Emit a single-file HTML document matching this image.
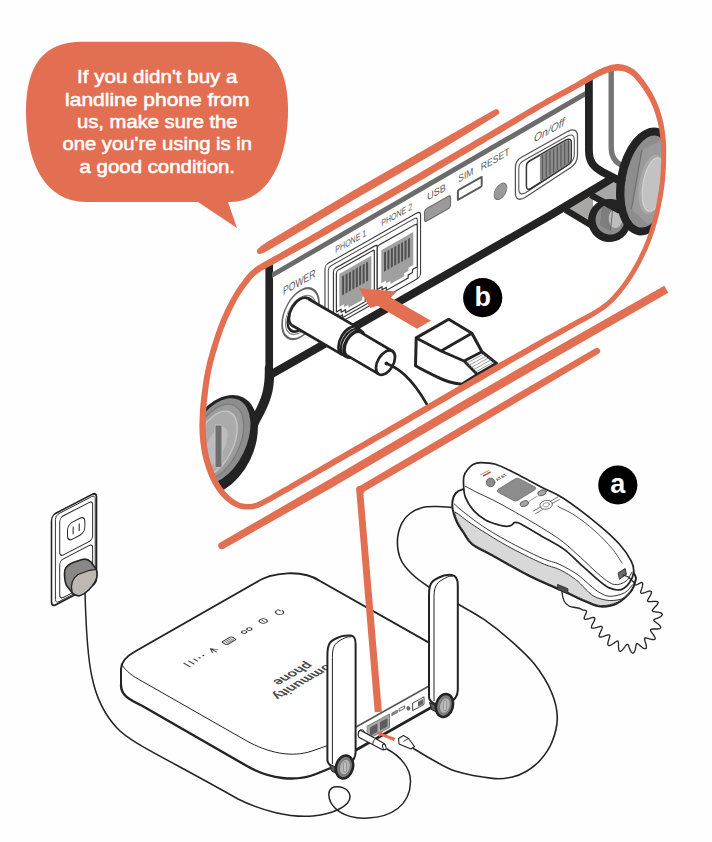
<!DOCTYPE html>
<html><head><meta charset="utf-8"><title>Connect your landline phone</title>
<style>
html,body{margin:0;padding:0;background:#fff}
body{width:712px;height:842px;overflow:hidden;font-family:"Liberation Sans",sans-serif}
svg{display:block}
.bt{font-family:"Liberation Sans",sans-serif;font-weight:normal;font-size:18.6px;fill:#fff;stroke:#fff;stroke-width:0.55px;text-anchor:middle}
.lb{font-family:"Liberation Sans",sans-serif;fill:#595959}
</style></head><body>
<svg width="712" height="842" viewBox="0 0 712 842">
<rect width="712" height="842" fill="#fefefe"/>
<path d="M82 41.8 L232 41.8 C268 41.8 287 62 288 106 C289 160 268 202 230 202 L228 202 L237 228 L198 202 L86 202 C46 202 26 164 26 112 C26 62 46 41.8 82 41.8Z" fill="#E36F52"/>
<text class="bt" x="157.3" y="83" textLength="160.5" lengthAdjust="spacingAndGlyphs">If you didn't buy a</text>
<text class="bt" x="157.3" y="105.5" textLength="184.5" lengthAdjust="spacingAndGlyphs">landline phone from</text>
<text class="bt" x="157.3" y="127.9" textLength="160.5" lengthAdjust="spacingAndGlyphs">us, make sure the</text>
<text class="bt" x="157.3" y="150.3" textLength="189.7" lengthAdjust="spacingAndGlyphs">one you're using is in</text>
<text class="bt" x="157.3" y="172.8" textLength="155.5" lengthAdjust="spacingAndGlyphs">a good condition.</text>

<g fill="none" stroke-linecap="round" stroke-linejoin="round">
<path d="M85 592 C86 630 88 660 92 677 C96 697 103 713 117 728 C131 743 160 755 238 799 C262 811 290 818 313 816 C333 814 351 806 350 796 C349 788 340 786 334 787 C327 789 327 800 335 808 C343 816 356 819 368 818 C392 817 410 805 410.5 782 C411 768 400 756 387 749" stroke="#232323" stroke-width="1.5"/>
<path d="M451 507.4 C448.7 507.2 441.7 506.5 437 506.5 C432.3 506.5 427.2 506.2 422.7 507.4 C418.2 508.6 413.6 510.6 410 513.5 C406.4 516.4 403.1 520.2 401 525 C398.9 529.8 397.4 536.2 397.4 542 C397.4 547.8 398.6 554.7 401 560 C403.4 565.3 407.3 569.5 412 574 C416.7 578.5 421.5 582.1 429 587 C436.5 591.9 447.8 598 457 603.5 C466.2 609 475.1 613.3 484.3 619.7 C493.5 626.1 504 634.6 512.4 642.1 C520.8 649.6 528.2 656.2 534.8 664.6 C541.3 673 548 683.8 551.7 692.7 C555.5 701.6 557.2 709.8 557.3 718 C557.3 726.2 554.8 735 552 742 C549.2 749 544.6 755.2 540.4 760 C536.2 764.8 531.7 768.2 527 771 C522.3 773.8 518.1 775.8 512.4 777 C506.7 778.2 502.1 779.4 492.7 778.4 C483.3 777.4 466.1 774.4 456 771.3 C445.9 768.1 439.1 763.3 432 759.5 C424.9 755.7 416.6 750.3 413.5 748.5" stroke="#232323" stroke-width="1.6"/>
<path d="M121 668 C121 661 126 656.5 135 651.5 L255 583 C272 571.5 303 569.5 320 581 L440 650 L440 700 L330 769 C312 780 292 782 268 771.5 L142 704.5 C128 697.5 121 693 121 685 Z" fill="#fff" stroke="none"/>
<path d="M121 684 L121 669 C121 661.5 126 656.5 135 651.5 L255 583 C272 571.5 303 569.5 320 581 L432 644.3" stroke="#232323" stroke-width="2"/>
<path d="M121 685 C121 695 128 699 142.5 706 L246 765.5 C270 779.5 296 782 316 774 L338 765" stroke="#232323" stroke-width="2.4"/>
<path d="M122 665 C126 671 132 676 142.5 681.5 L246 740.5 C268 753 292 758 312 751 L328 745.5" stroke="#232323" stroke-width="1"/>
<path d="M356 727 L431 685 L431 707.5 L356 750Z" fill="#fff" stroke="none"/>
<path d="M356 727 L430 685.5" stroke="#555" stroke-width="1.6"/>
<path d="M356 750 L432 707" stroke="#232323" stroke-width="2.6"/>
<path d="M367.5 726 L389.5 714 L389.5 727.5 L367.5 739.5Z" fill="#a9a9a9" stroke="#666" stroke-width="0.8"/><path d="M370 727.5 L377.5 723.5 L377.5 732 L370 736Z M380 722 L387.5 718 L387.5 726.5 L380 730.5Z" fill="#5e5e5e" stroke="none"/><path d="M392 713 L397.5 710 L397.5 712.6 L392 715.6Z" fill="#888" stroke="#555" stroke-width="0.6"/><path d="M399.5 708.6 L404.5 705.8 L404.5 708.4 L399.5 711.2Z" fill="#fff" stroke="#444" stroke-width="0.8"/><ellipse cx="408.3" cy="708.3" rx="1.5" ry="2" fill="#777" stroke="#444" stroke-width="0.6"/><path d="M413 703 L424 696.8 L424 704.3 L413 710.5Z" fill="#fff" stroke="#333" stroke-width="0.9"/><path d="M418 701.8 L423 699 L423 704 L418 706.8Z" fill="#666" stroke="none"/><ellipse cx="361.5" cy="734" rx="3.2" ry="4.3" fill="#fff" stroke="#232323" stroke-width="1"/><path d="M360.3 730.2 L375.5 738.5 L384.5 743.8 C386.5 745.3 385.5 749.5 383 750 L372.5 744.5 L358.8 737.2 C357.5 735 358.5 731 360.3 730.2Z" fill="#fff" stroke="#232323" stroke-width="1.1"/><path d="M375.5 738.5 C373.5 740 372.5 743 372.8 744.6" stroke="#232323" stroke-width="1"/><ellipse cx="384.3" cy="747" rx="1.6" ry="2.9" transform="rotate(-20 384.3 747)" fill="#fff" stroke="#232323" stroke-width="1"/><path d="M377.3 732 L383 731.6 L382 733.2 L395.5 738 L393.8 741 L380.5 735.6 L379.6 737.2Z" fill="#E36F52" stroke="none"/><path d="M398.5 738.5 L403.5 735.5 L408.5 738.5 L414.5 746.5 L411 749 L399 744Z" fill="#fff" stroke="#232323" stroke-width="1.1"/><path d="M403.8 741.2 L408.5 738.5" stroke="#232323" stroke-width="0.9"/><g transform="matrix(0.866 -0.5 0.866 0.5 187 665)"><path d="M0 -3.5 L0 3.5 M5 -3 L5 3 M10 -2 L10 2 M14.5 -0.6 L14.5 0.6 M19 -0.4 L19 0.4" stroke="#333" stroke-width="1.3"/><path d="M27 2.5 L30 -3 L33 2.5 M30 -3 L30 4" stroke="#333" stroke-width="1"/><rect x="43" y="-3" width="11" height="6" rx="1.2" fill="#e4e4e4" stroke="#333" stroke-width="1"/><path d="M45 -1.2 L52 -1.2 M45 0.4 L52 0.4 M45 1.8 L52 1.8" stroke="#555" stroke-width="0.5"/><circle cx="66" cy="0" r="2" stroke="#333" stroke-width="1"/><circle cx="72" cy="0" r="2" stroke="#333" stroke-width="1"/><circle cx="88" cy="0" r="3.2" stroke="#333" stroke-width="1"/><path d="M88 -1.5 L88 1.2" stroke="#333" stroke-width="0.9"/><path d="M106.5 -2.6 A3.3 3.3 0 1 0 109.5 0.5 M108 -3 L108 0" stroke="#333" stroke-width="1"/></g>
</g>
<g transform="matrix(-0.866 0.5 -0.866 -0.5 335 659)"><text x="0" y="0" font-family="Liberation Sans, sans-serif" font-weight="bold" font-size="13.4" fill="#4a4a4a">Community</text><text x="19" y="13.5" font-family="Liberation Sans, sans-serif" font-weight="bold" font-size="13.4" fill="#4a4a4a">phone</text></g>
<g><path d="M327.4 760 L327.4 655.5 C327.4 643.5 329.9 641.3 337 638 C341 635.8 345.5 635 350.5 635.6 C354.5 636 355.6 638.6 355.6 644.5 L355.6 752 C355.6 760 349.6 764 345.6 766 L335.4 768 C330.4 766 327.4 763 327.4 760Z" fill="#fff" stroke="#232323" stroke-width="2" stroke-linejoin="round"/><path d="M332.4 764 L332.4 657.5 C332.4 647.5 334.4 643.8 340 640.4 C344 638.3 346.5 636.4 351.5 636.8" fill="none" stroke="#232323" stroke-width="1"/><path d="M329.5 764 L337.5 768 L337.5 774 L331.5 771Z" fill="#5a5a5a" stroke="#232323" stroke-width="1" stroke-linejoin="round"/><g transform="translate(344.5 767)"><g transform="rotate(15)"><ellipse rx="8.4" ry="11.6" fill="#7e7e7e" stroke="#232323" stroke-width="2.6"/><ellipse cx="0.4" rx="5.2" ry="8" fill="#b4b4b4" stroke="#6d6d6d" stroke-width="0.8"/></g><rect x="-0.5" y="-5" width="2" height="10" rx="0.8" fill="#f0f0f0" stroke="#555" stroke-width="0.6"/></g></g>
<g><path d="M429 697 L429 595.5 C429 583.5 431.5 580.8 439 577.5 C443 575.3 446.8 574.4 451.8 575 C455.8 575.4 457.8 578 457.8 585.5 L457.8 690 C457.8 698 451.8 702 447.8 704 L437 705 C432 703 429 700 429 697Z" fill="#fff" stroke="#232323" stroke-width="2" stroke-linejoin="round"/><path d="M434 701 L434 597.5 C434 587.5 436 583.3 442 579.9 C446 577.8 447.8 575.8 452.8 576.2" fill="none" stroke="#232323" stroke-width="1"/><path d="M429.5 702.5 L437.5 706.5 L437.5 712.5 L431.5 709.5Z" fill="#5a5a5a" stroke="#232323" stroke-width="1" stroke-linejoin="round"/><g transform="translate(444.5 705.5)"><g transform="rotate(15)"><ellipse rx="8.4" ry="11.6" fill="#7e7e7e" stroke="#232323" stroke-width="2.6"/><ellipse cx="0.4" rx="5.2" ry="8" fill="#b4b4b4" stroke="#6d6d6d" stroke-width="0.8"/></g><rect x="-0.5" y="-5" width="2" height="10" rx="0.8" fill="#f0f0f0" stroke="#555" stroke-width="0.6"/></g></g>
<g stroke-linejoin="round"><g transform="matrix(0.866 -0.45 0 1 51.5 515.5)"><rect x="0" y="0" width="52" height="91.5" rx="5" fill="#fff" stroke="#232323" stroke-width="1.8"/><rect x="4.5" y="2" width="46" height="88" rx="4" fill="none" stroke="#232323" stroke-width="0.9"/><rect x="9.5" y="6.5" width="38" height="39" rx="4" fill="#fff" stroke="#232323" stroke-width="1.1"/><rect x="9.5" y="49.5" width="38" height="38.5" rx="4" fill="#fff" stroke="#232323" stroke-width="1.1"/><rect x="18.5" y="17.5" width="20" height="17" rx="5.5" fill="#fff" stroke="#232323" stroke-width="1.1"/><path d="M25 22.5 L25 30 M32 22.5 L32 30" stroke="#232323" stroke-width="1.2" fill="none"/></g><path d="M64.5 574 C64 567.5 68 564.5 73 562.5 L82 559.5 C86 558.5 89 560 91 562 L96 569 C97.5 573 97 578 95 581.5 C92 587 86 593.5 80 595.5 C76 596.5 74 594.5 72 592.5 L66.5 585.5 C64.8 582 64.6 578 64.5 574Z" fill="#8a8886" stroke="#232323" stroke-width="1.6"/><path d="M72.2 592.5 C70.5 585 72 578.5 78 574.5 L89 570.5 C92 570 94.5 569.7 96 569.2 C97.5 573 97 578 95 581.5 C92 587 86 593.5 80 595.5 C76 596.5 74 594.5 72.2 592.5Z" fill="#bdb8b2" stroke="#232323" stroke-width="1.2"/></g>
<g stroke-linejoin="round" stroke-linecap="round"><path d="M452.6 500.5 C453.1 497.8 453.9 495.3 455.5 493.5 C457.1 491.7 459.5 490.2 461.9 489.6 C464.3 489 463.6 487.4 470 490 C476.4 492.6 485 496.7 500 505 C515 513.3 540 530.8 560 540 C580 549.2 607.6 554.3 620 560 C632.4 565.7 632 570.8 634.5 574.4 C637 578 635.9 578.7 635.3 581.5 C634.7 584.3 634 587.6 631.1 591.2 C628.2 594.8 622.7 600.4 617.6 603 C612.5 605.6 606.1 606.9 600.8 606.6 C595.5 606.4 591.8 604 585.6 601.5 C579.4 599 573 595.6 563.7 591.4 C554.4 587.2 542.2 582.4 530 576.3 C517.8 570.2 500.3 559.9 490.6 554.6 C480.9 549.3 476.6 548.1 472 544.3 C467.4 540.5 465.5 535.6 463 532 C460.5 528.4 458.6 526.1 456.9 522.4 C455.2 518.7 453.5 513.6 452.8 510 C452.1 506.4 452.2 503.2 452.6 500.5Z" fill="#fff" stroke="#232323" stroke-width="2"/><path d="M455.2 512.3 C456.9 512.3 463.5 518.4 468 521.5 C472.5 524.6 475.5 526.7 482.1 530.8 C488.7 534.9 497.6 540.6 507.4 546 C517.2 551.4 532.3 558.9 541.1 562.9 C549.9 566.9 554.3 567 560 569.8 C565.7 572.5 571.3 576.3 575.5 579.4 C579.7 582.5 581.9 585.7 585 588.5 C588.1 591.3 590 594.3 594 596.3 C598 598.3 604.1 600.2 609.2 600.5 C614.3 600.8 620.6 599.7 624.4 598 C628.2 596.3 631 591.5 632 590.5 C633 589.5 632.9 589.8 630.5 591.8 C628.1 593.8 622.6 599.9 617.6 602.2 C612.6 604.5 606.1 605.9 600.8 605.6 C595.5 605.3 591.8 603 585.6 600.5 C579.4 598 573 594.6 563.7 590.4 C554.4 586.2 542.2 581.4 530 575.3 C517.8 569.2 500.2 558.9 490.6 553.6 C481 548.3 477 547 472.5 543.3 C468 539.6 466.3 535.1 463.8 531.5 C461.3 527.9 459.1 524.7 457.7 521.5 C456.3 518.3 453.5 512.3 455.2 512.3Z" fill="#d8d8d8" stroke="#232323" stroke-width="0.9"/><path d="M454.3 503.9 C455.6 505 457.3 507 461.9 510.6 C466.5 514.2 474.5 520.7 482.1 525.8 C489.7 530.9 497.6 535.7 507.4 541 C517.2 546.3 532.3 553.9 541.1 557.8 C549.9 561.7 554 561.8 560 564.6 C566 567.4 572.5 571.2 577.2 574.4 C581.9 577.5 584.6 580.7 588 583.5 C591.4 586.3 593.9 589.1 597.4 591.2 C600.9 593.3 604.7 596 609.2 596.3 C613.7 596.6 620.5 594.9 624.4 592.9 C628.3 590.9 631.4 585.9 632.8 584.5" fill="none" stroke="#232323" stroke-width="0.9"/><path d="M463.6 485.3 C463.4 481.8 463.3 478.7 464 476 C464.7 473.3 466.3 471.2 467.8 469.3 C469.3 467.4 470.9 465.6 473 464.5 C475.1 463.4 476.7 462.6 480.5 462.6 C484.3 462.6 489.7 462.5 495.6 464.3 C501.5 466.1 508.2 469.7 515.8 473.5 C523.4 477.3 533.1 482.8 541.1 487 C549.1 491.2 554.3 492.4 563.7 498.5 C573.1 504.6 588.1 516.2 597.4 523.8 C606.7 531.4 613.7 537.8 619.3 544 C624.9 550.2 628.7 556.2 631.1 560.9 C633.5 565.5 634 568.2 633.7 571.9 C633.4 575.5 631.5 579.8 629.4 582.8 C627.3 585.8 624.4 588.8 621 589.6 C617.6 590.5 613.1 589.6 609.2 587.9 C605.3 586.2 602.2 583.3 597.4 579.4 C592.6 575.5 586.2 569.3 580.6 564.3 C575 559.2 570.3 553.8 563.7 549.1 C557.1 544.4 548.2 540.1 541.1 535.9 C534 531.7 524.9 526.3 520.9 524.1 C516.9 521.9 518.1 522.9 517 522.6 C515.9 522.4 515.1 522.2 514.2 522.6 C513.3 523 512.7 524.7 511.5 525.3 C510.3 525.9 509.1 526.3 507 526.3 C504.9 526.2 502.6 526.1 499 525 C495.4 523.9 489.7 522.3 485.5 519.9 C481.3 517.5 477.1 514.4 473.7 510.6 C470.3 506.8 467 501.3 465.3 497.1 C463.6 492.9 463.8 488.8 463.6 485.3Z" fill="#fff" stroke="#232323" stroke-width="1.7"/><path d="M465.3 486.2 C467.2 487.2 472.8 490.4 477 492.5 C481.2 494.6 485.6 496.3 490.6 498.8 C495.6 501.3 501.4 504.4 507 507.5 C512.6 510.6 517.6 513.5 524.3 517.4 C530.9 521.3 540.3 526.8 546.9 531 C553.5 535.2 558.1 538.1 563.7 542.5 C569.3 546.9 574.4 551.9 580.6 557.5 C586.8 563.1 595.2 571.6 600.8 576.1 C606.4 580.6 610.1 583.7 614.3 584.5 C618.5 585.3 623.1 583.2 626.1 581.1 C629.1 579 631 573.5 632 572" fill="none" stroke="#232323" stroke-width="0.9"/><path d="M558 506.5 C560.8 508 568.8 511.4 575 515.5 C581.2 519.6 588.8 525.5 595 531 C601.2 536.5 607.5 543.2 612 548.5 C616.5 553.8 620.3 560.6 622 563" fill="none" stroke="#232323" stroke-width="0.8"/><path d="M498.3 489.3 L514.7 479 C516.2 478 518 478 519.5 478.7 L534.2 486.5 C536.2 487.6 536.2 489 534.6 490 L518 500.2 C516.5 501.1 514.8 501.1 513.3 500.4 L498.6 492.6 C496.8 491.6 496.8 490.3 498.3 489.3Z" fill="#8c8c8c" stroke="#666" stroke-width="0.7"/><circle cx="490.6" cy="482.4" r="4.3" fill="#8e8e8e" stroke="#555" stroke-width="0.8"/><path d="M483.3 475.8 L490.2 472.2" stroke="#d8332e" stroke-width="1.3"/><path d="M480.5 474.8 L488.5 470.6" stroke="#666" stroke-width="0.7"/><text transform="matrix(0.866 -0.5 0.866 0.5 497.5 481)" font-family="Liberation Sans, sans-serif" font-weight="bold" font-size="4.6" fill="#444">AT&amp;T</text><ellipse cx="542" cy="492.9" rx="4.4" ry="2.7" transform="rotate(-18 542 492.9)" fill="#a5a5a5" stroke="#555" stroke-width="0.8"/><ellipse cx="524.3" cy="503.6" rx="4.4" ry="2.7" transform="rotate(-18 524.3 503.6)" fill="#a5a5a5" stroke="#555" stroke-width="0.8"/><path d="M529.5 501 L537 496.3" stroke="#666" stroke-width="0.7"/><ellipse cx="546.2" cy="504.8" rx="6.4" ry="4.4" transform="rotate(-12 546.2 504.8)" fill="#fff" stroke="#555" stroke-width="0.8"/><ellipse cx="546.2" cy="504.8" rx="3.2" ry="2.1" transform="rotate(-12 546.2 504.8)" fill="#fff" stroke="#666" stroke-width="0.6"/><path d="M533.5 511 L541 506.8 M535.5 513.6 L542.5 509.6 M550.5 501.2 L558 497 M552.2 503.4 L559.3 499.6" stroke="#666" stroke-width="0.9"/><path d="M557.8 584.5 L567.9 588.7 L567.9 593.8 L557.8 589.6Z" fill="#4a4a4a" stroke="#232323" stroke-width="0.8"/><path d="M618.5 572.7 L625.2 568.5 L626.4 574.4 L619.7 579.1Z" fill="#6a6a6a" stroke="#232323" stroke-width="0.9"/><path d="M562 592 C562.5 600 565 604 569 606 C573 608 578 607 582 609.5 L582.1,609.6 582.3,609.7 582.4,609.8 582.6,609.9 582.9,610 583.1,610.1 583.4,610.1 583.8,610.2 584.1,610.2 584.5,610.2 584.9,610.3 585.2,610.3 585.6,610.4 585.9,610.5 586.2,610.7 586.4,611 586.5,611.3 586.5,611.7 586.4,612.2 586.2,612.8 586,613.4 585.6,614.2 585.2,615 584.9,615.8 584.5,616.5 584.3,617.2 584.1,617.8 584.1,618.3 584.2,618.7 584.4,619 584.7,619.2 585.2,619.3 585.8,619.3 586.4,619.2 587.2,619 588,618.8 588.9,618.6 589.7,618.3 590.6,618 591.4,617.8 592.2,617.6 592.9,617.5 593.5,617.5 594,617.5 594.4,617.7 594.7,618 594.8,618.3 594.9,618.8 594.7,619.4 594.5,620.1 594.2,620.9 593.8,621.7 593.3,622.6 592.9,623.4 592.4,624.3 592,625.1 591.7,625.9 591.5,626.6 591.4,627.1 591.5,627.6 591.7,627.9 592.1,628.1 592.7,628.2 593.4,628.2 594.2,628.1 595,627.9 596,627.6 597,627.3 597.9,627 598.9,626.8 599.7,626.5 600.5,626.4 601.1,626.4 601.6,626.5 601.9,626.7 602.1,627 602.2,627.5 602.1,628.1 601.9,628.8 601.6,629.6 601.2,630.4 600.8,631.3 600.4,632.2 600,633.1 599.7,633.9 599.4,634.7 599.2,635.4 599.1,636 599.2,636.5 599.4,636.8 599.8,637 600.3,637.1 601,637 601.7,636.9 602.6,636.7 603.5,636.4 604.5,636 605.4,635.7 606.3,635.4 607.2,635.1 607.9,634.9 608.6,634.8 609.1,634.9 609.5,635 609.7,635.3 609.8,635.7 609.8,636.2 609.7,636.8 609.5,637.6 609.2,638.4 608.9,639.3 608.6,640.2 608.3,641.1 608.1,642 607.9,642.8 607.8,643.6 607.8,644.3 608,644.8 608.2,645.2 608.5,645.5 608.9,645.6 609.4,645.6 610,645.4 610.7,645.2 611.4,644.8 612.2,644.3 612.9,643.8 613.7,643.2 614.4,642.7 615.1,642.2 615.8,641.8 616.4,641.4 616.9,641.2 617.3,641 617.7,641.1 618,641.2 618.2,641.6 618.3,642 618.4,642.6 618.5,643.3 618.5,644.1 618.5,645 618.5,645.9 618.5,646.8 618.5,647.7 618.6,648.6 618.7,649.3 618.8,650 619.1,650.5 619.3,650.9 619.7,651.2 620,651.3 620.5,651.3 620.9,651.1 621.4,650.8 621.9,650.4 622.5,649.8 623,649.2 623.5,648.6 624,647.9 624.5,647.2 625,646.6 625.4,646 625.8,645.4 626.2,645 626.6,644.6 626.9,644.4 627.3,644.3 627.5,644.3 627.8,644.5 628.1,644.8 628.3,645.2 628.6,645.7 628.8,646.4 629.1,647.1 629.3,647.8 629.6,648.6 629.9,649.4 630.3,650.2 630.6,650.9 631,651.5 631.3,652.1 631.7,652.5 632.1,652.8 632.5,653 632.9,653 633.3,653 633.6,652.7 634,652.4 634.3,651.9 634.6,651.3 634.9,650.7 635.1,649.9 635.3,649.2 635.5,648.4 635.6,647.6 635.8,646.8 635.9,646.1 636,645.5 636.1,644.9 636.2,644.4 636.4,644 636.5,643.7 636.7,643.6 637,643.5 637.3,643.6 637.6,643.7 638,644 638.5,644.3 639,644.8 639.5,645.2 640.1,645.7 640.7,646.3 641.4,646.8 642,647.3 642.7,647.7 643.3,648.1 643.9,648.4 644.5,648.6 645,648.7 645.4,648.7 645.8,648.5 646.1,648.2 646.3,647.9 646.4,647.4 646.4,646.8 646.4,646.1 646.3,645.4 646.1,644.6 645.9,643.8 645.6,643 645.4,642.2 645.1,641.4 644.9,640.7 644.7,640 644.6,639.4 644.5,638.9 644.6,638.5 644.7,638.3 644.9,638.1 645.2,638 645.7,638 646.3,638.1 646.9,638.2 647.7,638.4 648.6,638.7 649.5,638.9 650.4,639.2 651.3,639.4 652.2,639.5 653,639.6 653.7,639.6 654.3,639.5 654.8,639.3 655,639 655.2,638.5 655.1,638 654.9,637.3 654.5,636.6 654.1,635.8 653.5,635 652.9,634.2 652.3,633.4 651.8,632.6 651.3,631.9 650.9,631.2 650.6,630.6 650.5,630.2 650.5,629.8 650.7,629.5 651.1,629.3 651.6,629.1 652.2,629.1 653,629 653.9,629 654.8,629 655.7,629 656.6,629 657.5,629 658.3,628.9 659,628.8 659.6,628.6 660.1,628.4 660.4,628.1 660.6,627.8 660.7,627.4 660.7,627 660.5,626.6 660.2,626.1 659.8,625.6 659.3,625.1 658.7,624.6 658.1,624 657.4,623.5 656.8,623 656.1,622.6 655.5,622.1 655,621.7 654.5,621.3 654.2,621 653.9,620.7 653.8,620.4 653.8,620.1 653.9,619.8 654.1,619.6 654.5,619.4 654.9,619.1 655.5,618.9 656.2,618.6 656.9,618.4 657.6,618.1 658.4,617.7 659.2,617.4 659.9,617 660.6,616.6 661.1,616.2 661.6,615.7 662,615.3 662.2,614.8 662.3,614.4 662.1,614 661.9,613.6 661.4,613.2 660.8,612.9 660.1,612.6 659.2,612.4 658.3,612.2 657.3,612.1 656.3,612 655.4,611.8 654.5,611.7 653.7,611.6 653.1,611.4 652.7,611.2 652.4,610.8 652.4,610.4 652.6,610 652.9,609.4 653.4,608.8 654,608.1 654.7,607.3 655.5,606.5 656.2,605.7 656.9,605 657.4,604.2 657.8,603.5 658.1,602.9 658.1,602.4 657.9,602 657.6,601.7 657,601.5 656.3,601.3 655.5,601.3 654.5,601.3 653.5,601.4 652.5,601.5 651.5,601.6 650.6,601.6 649.8,601.7 649.1,601.7 648.5,601.6 648.1,601.5 647.8,601.3 647.6,601 647.6,600.6 647.7,600.1 648,599.6 648.3,598.9 648.7,598.2 649.2,597.5 649.6,596.7 650.1,595.9 650.5,595.1 650.9,594.3 651.2,593.6 651.4,593 651.5,592.4 651.4,591.9 651.3,591.6 651,591.3 650.6,591.1 650.1,591.1 649.4,591.1 648.7,591.2 648,591.4 647.2,591.7 646.3,592 645.5,592.3 644.7,592.6 643.9,592.8 643.2,593 642.5,593.2 642,593.3 641.5,593.3 641.2,593.2 640.9,593 640.8,592.7 640.7,592.3 640.7,591.8 640.8,591.2 641,590.6 641.3,589.9 641.5,589.1 641.8,588.4 642,587.5 642.3,586.7 642.5,585.9 642.6,585.2 642.7,584.5 642.7,583.9 642.6,583.4 642.4,583 642.2,582.7 641.8,582.6 641.4,582.5 640.9,582.6 640.3,582.9 639.6,583.3 638.9,583.6 638.3,584 637.7,584.3 637.1,584.6 636.6,584.8 636.1,584.9 635.7,584.9 635.4,584.9 635.1,584.8 634.8,584.6 634.6,584.3 634.5,584 634.3,583.7 634.2,583.4 634.1,583 634,582.7 633.9,582.4 633.8,582.1 633.6,582 633.4,581.8 633.2,581.7 633,581.5 632.8,581.4 632.6,581.2 632.5,581.1 632.3,580.9 632.1,580.8 632,580.6 631.8,580.5 631.7,580.3 631.5,580.2 631.4,580.1 631.2,579.9 631.1,579.8 631,579.7 630.8,579.5 630.7,579.4 630.6,579.3 630.5,579.1 630.4,579 630.2,578.9 630.1,578.8 630,578.7 629.9,578.6 629.8,578.4 629.7,578.3 629.6,578.2 629.5,578.1 629.4,578 629.3,577.9 629.3,577.8 629.2,577.7 629.1,577.6 629,577.6 629,577.5 628.9,577.4 628.8,577.3 628.7,577.3 628.7,577.2 628.6,577.1 628.6,577.1 628.5,577 L623.5 575" fill="none" stroke="#232323" stroke-width="1.3"/></g>

<defs><clipPath id="cc"><path d="M262.5,266.6 263.8,265.8 265.3,265 266.9,264.1 268.7,263.1 270.5,262.1 272.3,261.1 274.3,260 276.2,258.9 278.1,257.9 280,256.8 281.7,255.8 283.3,255 284.7,254.2 286.1,253.4 287.6,252.6 289.3,251.7 291.3,250.5 293.7,249.2 296.5,247.6 300,245.6 304.2,243.2 309.1,240.4 314.5,237.3 320.4,233.9 326.5,230.4 332.7,226.8 338.9,223.2 345,219.7 350.7,216.4 356,213.4 360.9,210.6 365.6,208 370.1,205.4 374.4,202.9 378.7,200.5 382.9,198.2 387.1,195.8 391.3,193.4 395.6,190.9 400,188.4 404.5,185.8 408.9,183.2 413.4,180.6 417.9,177.9 422.4,175.3 427,172.6 431.5,170 436,167.3 440.5,164.7 445,162 449.5,159.4 453.9,156.8 458.3,154.2 462.8,151.6 467.2,149 471.6,146.3 476.1,143.7 480.7,141 485.3,138.3 490,135.5 494.9,132.6 499.9,129.6 505.1,126.5 510.4,123.4 515.6,120.2 520.8,117.1 525.9,114 530.9,111.1 535.6,108.4 540,105.8 544.2,103.4 548.1,101.2 551.9,99.1 555.6,97.1 559.1,95.2 562.4,93.3 565.7,91.6 568.9,89.9 572,88.2 575,86.5 577.9,84.8 580.8,83.2 583.5,81.6 586.1,80.1 588.6,78.6 591.1,77.2 593.4,75.9 595.7,74.6 597.9,73.5 600,72.5 602,71.6 604,70.8 605.8,70 607.5,69.4 609.2,68.8 610.8,68.4 612.4,68 613.9,67.7 615.4,67.5 617,67.4 618.6,67.4 620.1,67.5 621.6,67.7 623.1,68 624.5,68.3 625.9,68.8 627.3,69.3 628.7,69.9 630,70.6 631.3,71.4 632.6,72.3 633.8,73.2 635,74.3 636.1,75.5 637.3,76.7 638.4,78 639.5,79.3 640.6,80.7 641.6,82.1 642.7,83.5 643.8,85 644.8,86.5 645.9,88.1 647,89.7 648,91.4 649,93.1 650,94.8 651,96.5 651.9,98.2 652.7,99.9 653.5,101.6 654.3,103.3 655,104.9 655.7,106.6 656.3,108.3 656.9,110 657.5,111.7 658.1,113.5 658.6,115.2 659.1,117 659.6,118.8 660,120.6 660.5,122.4 660.9,124.2 661.2,126.1 661.6,127.9 661.9,129.8 662.2,131.7 662.5,133.6 662.7,135.5 662.9,137.4 663.1,139.2 663.3,141.1 663.4,142.9 663.5,144.8 663.6,146.7 663.7,148.7 663.7,150.8 663.7,153 663.7,155.4 663.7,158 663.6,160.7 663.5,163.5 663.4,166.4 663.3,169.4 663.1,172.5 662.9,175.6 662.7,178.8 662.4,181.9 662,185 661.6,188.1 661.1,191.3 660.6,194.5 660.1,197.8 659.5,201.1 658.9,204.3 658.2,207.6 657.5,210.8 656.8,213.9 656,217 655.2,220 654.4,223 653.5,225.9 652.6,228.8 651.7,231.6 650.7,234.5 649.7,237.3 648.7,240 647.6,242.8 646.5,245.5 645.4,248.2 644.2,250.9 642.9,253.6 641.7,256.2 640.4,258.8 639.1,261.4 637.7,263.9 636.4,266.4 635,268.8 633.6,271.2 632.2,273.5 630.8,275.8 629.3,278.1 627.8,280.3 626.3,282.5 624.8,284.6 623.2,286.7 621.7,288.7 620.1,290.7 618.5,292.6 616.9,294.4 615.5,296.1 614,297.7 612.5,299.3 611,300.8 609.4,302.3 607.7,303.7 605.9,305.3 603.8,306.8 601.5,308.5 599,310.2 596.2,311.9 593.3,313.7 590.2,315.4 586.9,317.2 583.6,319 580.2,320.9 576.8,322.7 573.4,324.6 570,326.5 566.7,328.3 563.6,330.1 560.6,331.8 557.5,333.5 554.3,335.2 551,337.1 547.4,339.1 543.4,341.3 539,343.8 534,346.6 528.4,349.8 522.2,353.3 515.6,357.1 508.6,361.1 501.3,365.3 493.9,369.6 486.4,373.8 479.1,378.1 471.9,382.2 465,386.2 458.4,390 451.8,393.8 445.4,397.6 439,401.3 432.6,405.1 426.2,408.8 419.7,412.5 413.3,416.3 406.7,420.1 400,424 393.1,428 385.8,432.2 378.4,436.4 370.9,440.8 363.4,445.1 356.1,449.3 349,453.4 342.2,457.3 335.8,461 330,464.3 324.7,467.4 319.7,470.3 315,473 310.6,475.5 306.6,477.8 302.8,480 299.2,482.1 295.9,484 292.9,485.8 290,487.4 287.5,488.9 285.3,490.1 283.5,491.1 282,492 280.7,492.8 279.5,493.5 278.4,494.1 277.3,494.7 276.2,495.3 275,496 273.8,496.7 272.6,497.4 271.5,498 270.4,498.6 269.3,499.2 268.3,499.8 267.4,500.3 266.4,500.8 265.4,501.3 264.5,501.8 263.6,502.3 262.7,502.7 261.8,503.2 261,503.6 260.1,504 259.3,504.4 258.5,504.7 257.7,505 256.8,505.3 256,505.6 255.2,505.8 254.3,506.1 253.5,506.2 252.6,506.4 251.8,506.6 251,506.7 250.1,506.7 249.3,506.8 248.4,506.8 247.5,506.8 246.6,506.8 245.7,506.7 244.7,506.6 243.8,506.5 242.8,506.4 241.9,506.2 240.9,506 239.9,505.7 239,505.4 238,505 237,504.6 236,504.1 235,503.5 234,503 233,502.3 232,501.6 231,500.9 230,500.2 229,499.4 228,498.5 227,497.6 226,496.6 225,495.6 224,494.5 223.1,493.4 222.1,492.3 221.2,491.1 220.2,489.9 219.3,488.7 218.5,487.5 217.7,486.3 216.9,485 216.2,483.7 215.4,482.4 214.8,481.1 214.1,479.8 213.4,478.4 212.8,477 212.1,475.5 211.5,474 210.9,472.4 210.3,470.8 209.7,469.2 209.1,467.5 208.5,465.7 207.9,464 207.4,462.2 206.9,460.5 206.4,458.7 206,457 205.6,455.3 205.2,453.6 204.9,451.9 204.6,450.2 204.3,448.6 204.1,446.9 203.9,445.2 203.7,443.5 203.5,441.7 203.3,440 203.1,438.3 203,436.5 202.9,434.8 202.8,433.1 202.7,431.3 202.6,429.5 202.6,427.7 202.6,425.9 202.6,424 202.6,422 202.6,420 202.7,418 202.8,415.9 202.9,413.8 203,411.6 203.2,409.4 203.3,407.2 203.5,404.8 203.7,402.5 204,400 204.3,397.4 204.6,394.7 204.9,391.9 205.3,389.1 205.7,386.2 206.1,383.3 206.5,380.4 207,377.5 207.5,374.7 208,372 208.5,369.4 209.1,366.8 209.7,364.3 210.3,361.9 210.9,359.4 211.6,357 212.3,354.6 213,352.1 213.7,349.6 214.5,347 215.3,344.4 216.2,341.7 217,339 217.9,336.2 218.9,333.5 219.8,330.8 220.8,328 221.9,325.3 222.9,322.6 224,320 225.1,317.4 226.3,314.7 227.6,312.1 228.8,309.4 230.1,306.8 231.4,304.3 232.7,301.8 234,299.4 235.3,297.1 236.5,295 237.7,293 238.9,291.1 240.2,289.2 241.4,287.5 242.6,285.8 243.8,284.2 244.9,282.7 246,281.3 247,280 248,278.8 248.9,277.7 249.7,276.7 250.4,275.9 251.1,275.2 251.8,274.5 252.4,273.9 253,273.3 253.6,272.8 254.3,272.2 255,271.6 255.7,271 256.3,270.5 256.9,270.1 257.5,269.7 258.1,269.3 258.8,268.8 259.5,268.4 260.4,267.9 261.3,267.3Z"/></clipPath></defs>
<path d="M262.5,266.6 263.8,265.8 265.3,265 266.9,264.1 268.7,263.1 270.5,262.1 272.3,261.1 274.3,260 276.2,258.9 278.1,257.9 280,256.8 281.7,255.8 283.3,255 284.7,254.2 286.1,253.4 287.6,252.6 289.3,251.7 291.3,250.5 293.7,249.2 296.5,247.6 300,245.6 304.2,243.2 309.1,240.4 314.5,237.3 320.4,233.9 326.5,230.4 332.7,226.8 338.9,223.2 345,219.7 350.7,216.4 356,213.4 360.9,210.6 365.6,208 370.1,205.4 374.4,202.9 378.7,200.5 382.9,198.2 387.1,195.8 391.3,193.4 395.6,190.9 400,188.4 404.5,185.8 408.9,183.2 413.4,180.6 417.9,177.9 422.4,175.3 427,172.6 431.5,170 436,167.3 440.5,164.7 445,162 449.5,159.4 453.9,156.8 458.3,154.2 462.8,151.6 467.2,149 471.6,146.3 476.1,143.7 480.7,141 485.3,138.3 490,135.5 494.9,132.6 499.9,129.6 505.1,126.5 510.4,123.4 515.6,120.2 520.8,117.1 525.9,114 530.9,111.1 535.6,108.4 540,105.8 544.2,103.4 548.1,101.2 551.9,99.1 555.6,97.1 559.1,95.2 562.4,93.3 565.7,91.6 568.9,89.9 572,88.2 575,86.5 577.9,84.8 580.8,83.2 583.5,81.6 586.1,80.1 588.6,78.6 591.1,77.2 593.4,75.9 595.7,74.6 597.9,73.5 600,72.5 602,71.6 604,70.8 605.8,70 607.5,69.4 609.2,68.8 610.8,68.4 612.4,68 613.9,67.7 615.4,67.5 617,67.4 618.6,67.4 620.1,67.5 621.6,67.7 623.1,68 624.5,68.3 625.9,68.8 627.3,69.3 628.7,69.9 630,70.6 631.3,71.4 632.6,72.3 633.8,73.2 635,74.3 636.1,75.5 637.3,76.7 638.4,78 639.5,79.3 640.6,80.7 641.6,82.1 642.7,83.5 643.8,85 644.8,86.5 645.9,88.1 647,89.7 648,91.4 649,93.1 650,94.8 651,96.5 651.9,98.2 652.7,99.9 653.5,101.6 654.3,103.3 655,104.9 655.7,106.6 656.3,108.3 656.9,110 657.5,111.7 658.1,113.5 658.6,115.2 659.1,117 659.6,118.8 660,120.6 660.5,122.4 660.9,124.2 661.2,126.1 661.6,127.9 661.9,129.8 662.2,131.7 662.5,133.6 662.7,135.5 662.9,137.4 663.1,139.2 663.3,141.1 663.4,142.9 663.5,144.8 663.6,146.7 663.7,148.7 663.7,150.8 663.7,153 663.7,155.4 663.7,158 663.6,160.7 663.5,163.5 663.4,166.4 663.3,169.4 663.1,172.5 662.9,175.6 662.7,178.8 662.4,181.9 662,185 661.6,188.1 661.1,191.3 660.6,194.5 660.1,197.8 659.5,201.1 658.9,204.3 658.2,207.6 657.5,210.8 656.8,213.9 656,217 655.2,220 654.4,223 653.5,225.9 652.6,228.8 651.7,231.6 650.7,234.5 649.7,237.3 648.7,240 647.6,242.8 646.5,245.5 645.4,248.2 644.2,250.9 642.9,253.6 641.7,256.2 640.4,258.8 639.1,261.4 637.7,263.9 636.4,266.4 635,268.8 633.6,271.2 632.2,273.5 630.8,275.8 629.3,278.1 627.8,280.3 626.3,282.5 624.8,284.6 623.2,286.7 621.7,288.7 620.1,290.7 618.5,292.6 616.9,294.4 615.5,296.1 614,297.7 612.5,299.3 611,300.8 609.4,302.3 607.7,303.7 605.9,305.3 603.8,306.8 601.5,308.5 599,310.2 596.2,311.9 593.3,313.7 590.2,315.4 586.9,317.2 583.6,319 580.2,320.9 576.8,322.7 573.4,324.6 570,326.5 566.7,328.3 563.6,330.1 560.6,331.8 557.5,333.5 554.3,335.2 551,337.1 547.4,339.1 543.4,341.3 539,343.8 534,346.6 528.4,349.8 522.2,353.3 515.6,357.1 508.6,361.1 501.3,365.3 493.9,369.6 486.4,373.8 479.1,378.1 471.9,382.2 465,386.2 458.4,390 451.8,393.8 445.4,397.6 439,401.3 432.6,405.1 426.2,408.8 419.7,412.5 413.3,416.3 406.7,420.1 400,424 393.1,428 385.8,432.2 378.4,436.4 370.9,440.8 363.4,445.1 356.1,449.3 349,453.4 342.2,457.3 335.8,461 330,464.3 324.7,467.4 319.7,470.3 315,473 310.6,475.5 306.6,477.8 302.8,480 299.2,482.1 295.9,484 292.9,485.8 290,487.4 287.5,488.9 285.3,490.1 283.5,491.1 282,492 280.7,492.8 279.5,493.5 278.4,494.1 277.3,494.7 276.2,495.3 275,496 273.8,496.7 272.6,497.4 271.5,498 270.4,498.6 269.3,499.2 268.3,499.8 267.4,500.3 266.4,500.8 265.4,501.3 264.5,501.8 263.6,502.3 262.7,502.7 261.8,503.2 261,503.6 260.1,504 259.3,504.4 258.5,504.7 257.7,505 256.8,505.3 256,505.6 255.2,505.8 254.3,506.1 253.5,506.2 252.6,506.4 251.8,506.6 251,506.7 250.1,506.7 249.3,506.8 248.4,506.8 247.5,506.8 246.6,506.8 245.7,506.7 244.7,506.6 243.8,506.5 242.8,506.4 241.9,506.2 240.9,506 239.9,505.7 239,505.4 238,505 237,504.6 236,504.1 235,503.5 234,503 233,502.3 232,501.6 231,500.9 230,500.2 229,499.4 228,498.5 227,497.6 226,496.6 225,495.6 224,494.5 223.1,493.4 222.1,492.3 221.2,491.1 220.2,489.9 219.3,488.7 218.5,487.5 217.7,486.3 216.9,485 216.2,483.7 215.4,482.4 214.8,481.1 214.1,479.8 213.4,478.4 212.8,477 212.1,475.5 211.5,474 210.9,472.4 210.3,470.8 209.7,469.2 209.1,467.5 208.5,465.7 207.9,464 207.4,462.2 206.9,460.5 206.4,458.7 206,457 205.6,455.3 205.2,453.6 204.9,451.9 204.6,450.2 204.3,448.6 204.1,446.9 203.9,445.2 203.7,443.5 203.5,441.7 203.3,440 203.1,438.3 203,436.5 202.9,434.8 202.8,433.1 202.7,431.3 202.6,429.5 202.6,427.7 202.6,425.9 202.6,424 202.6,422 202.6,420 202.7,418 202.8,415.9 202.9,413.8 203,411.6 203.2,409.4 203.3,407.2 203.5,404.8 203.7,402.5 204,400 204.3,397.4 204.6,394.7 204.9,391.9 205.3,389.1 205.7,386.2 206.1,383.3 206.5,380.4 207,377.5 207.5,374.7 208,372 208.5,369.4 209.1,366.8 209.7,364.3 210.3,361.9 210.9,359.4 211.6,357 212.3,354.6 213,352.1 213.7,349.6 214.5,347 215.3,344.4 216.2,341.7 217,339 217.9,336.2 218.9,333.5 219.8,330.8 220.8,328 221.9,325.3 222.9,322.6 224,320 225.1,317.4 226.3,314.7 227.6,312.1 228.8,309.4 230.1,306.8 231.4,304.3 232.7,301.8 234,299.4 235.3,297.1 236.5,295 237.7,293 238.9,291.1 240.2,289.2 241.4,287.5 242.6,285.8 243.8,284.2 244.9,282.7 246,281.3 247,280 248,278.8 248.9,277.7 249.7,276.7 250.4,275.9 251.1,275.2 251.8,274.5 252.4,273.9 253,273.3 253.6,272.8 254.3,272.2 255,271.6 255.7,271 256.3,270.5 256.9,270.1 257.5,269.7 258.1,269.3 258.8,268.8 259.5,268.4 260.4,267.9 261.3,267.3Z" fill="#fff"/>
<g clip-path="url(#cc)" stroke-linejoin="round">
<path d="M269.5 368 C270 390 266 401 256 419 C254 423 252 427 251 431" fill="none" stroke="#232323" stroke-width="9.5" stroke-linecap="round"/><g transform="translate(219.5 445) rotate(26)"><ellipse rx="34" ry="53" fill="#232323"/><ellipse cx="-2.5" cy="-3" rx="27.5" ry="46" fill="#8d8d8d"/><ellipse cx="-4" cy="-1" rx="23" ry="41" fill="#9c9c9c" stroke="#7a7a7a" stroke-width="1.2"/><ellipse cx="-5" cy="1" rx="18.5" ry="35" fill="#ababab" stroke="#c6c6c6" stroke-width="1.4"/><ellipse cx="-3" cy="4" rx="9" ry="22" fill="#bcbcbc"/></g><rect x="215" y="425" width="7" height="42.5" rx="1.5" fill="#6e6e6e" stroke="#c4c4c4" stroke-width="1"/><path d="M269.3 250 L269.3 374" fill="none" stroke="#232323" stroke-width="7.8"/><path d="M273 262 L590 84 L590 190 L273 372Z" fill="#fff"/><path d="M272 272.4 L586 90.6 L586 96.3 L272 278.1Z" fill="#6b6b6b"/><path d="M589.6 60 L589.6 150 C589.6 162 594 167 603 172 L640 192 L680 150 L680 40 Z" fill="#fff"/><path d="M611.2 55 L611.2 146 C611.2 156 614 161 621 165 L640 175" fill="none" stroke="#757575" stroke-width="5.4"/><path d="M569 208.5 L593 195 L593 222Z" fill="#a9a6a6"/><path d="M592 194 L618.5 180 L618 206Z" fill="#a9a6a6"/><g transform="translate(609.5 220.5) rotate(6)"><ellipse rx="21.5" ry="21.5" fill="#232323"/><ellipse cx="0.5" cy="-1" rx="14.5" ry="15" fill="#8d8d8d"/><path d="M-9 -12 L2 -14 L2 10 L-9 6Z" fill="#7d7d7d"/><ellipse cx="6" cy="-3" rx="7" ry="10" fill="#bdbdbd"/><path d="M2 -14 L2 10" stroke="#6a6a6a" stroke-width="1"/></g><path d="M565.5 209.8 L593 226.3" fill="none" stroke="#232323" stroke-width="6.3"/><path d="M590.7 195 L620 211" fill="none" stroke="#232323" stroke-width="6.3"/><g transform="translate(647.5 181.5) rotate(10)"><ellipse rx="30.5" ry="54.5" fill="#232323"/><ellipse cx="0.5" cy="0" rx="22.5" ry="46.5" fill="#8d8d8d"/><path d="M-11 -30 L-11 30 L8 42 L20 30 L20 -34 L8 -44Z" fill="#9a9a9a"/><path d="M-11 -30 L-11 30" stroke="#6f6f6f" stroke-width="1.2"/><ellipse cx="5" cy="2" rx="13" ry="30" fill="#a9a9a9"/><ellipse cx="6.5" cy="2" rx="10.5" ry="27" fill="#c2c2c2" stroke="#d4d4d4" stroke-width="1.2"/><rect x="13" y="-26" width="12" height="50" fill="#8a8a8a"/></g><path d="M588.9 60 L588.9 150 C588.9 162 593.5 167 602.5 172 L624 183" fill="none" stroke="#232323" stroke-width="7.8"/><path d="M270 375 L550 215.6 L612 178.5" fill="none" stroke="#232323" stroke-width="8"/><g transform="matrix(0.866 -0.49 0 1 273 265)"><ellipse cx="31.8" cy="64.3" rx="21.3" ry="23.2" fill="#fff" stroke="#666" stroke-width="2"/><circle cx="31.8" cy="65.5" r="17.5" fill="#fff" stroke="#8a8a8a" stroke-width="1.2"/><circle cx="31.8" cy="65.5" r="15" fill="#fff" stroke="#232323" stroke-width="2.4"/><text class="lb" x="11.5" y="35.8" font-size="11.6" textLength="37.5" lengthAdjust="spacingAndGlyphs">POWER</text><rect x="60" y="29.5" width="110.4" height="66" rx="4" fill="#fff" stroke="#333" stroke-width="1.2"/><path d="M63.8 95.5 L63.8 36.8 Q63.8 33.6 67 33.6 L163.4 33.6 Q166.6 33.6 166.6 36.8 L166.6 95.5" fill="none" stroke="#333" stroke-width="1"/><path d="M72.3 38.5 L117.9 38.5 Q120.4 38.5 120.4 41 L120.4 86 l-5.5 0 l0 3 l-5 0 l0 3 L80.3 92 l0 -3 l-5 0 l0 -3 l-5.5 0 L69.8 41 Q69.8 38.5 72.3 38.5Z" fill="#fff" stroke="#3a3a3a" stroke-width="1.4" stroke-linejoin="round"/><path d="M75.2 42 L115 42 Q117 42 117 44 L117 82.8 l-5.5 0 l0 3 l-5 0 l0 3 L83.7 88.8 l0 -3 l-5 0 l0 -3 l-5.5 0 L73.2 44 Q73.2 42 75.2 42Z" fill="#fff" stroke="#3a3a3a" stroke-width="1.4" stroke-linejoin="round"/><path d="M76.6 46.5 L113.6 46.5 L113.6 79.5 l-5.5 0 l0 3 l-5 0 l0 3 L87.1 85.5 l0 -3 l-5 0 l0 -3 l-5.5 0Z" fill="#a0a0a0" stroke="none"/><rect x="79.8" y="50.5" width="2.3" height="19" fill="#4f4f4f"/><rect x="83.8" y="50.5" width="2.3" height="19" fill="#4f4f4f"/><rect x="87.7" y="50.5" width="2.3" height="19" fill="#4f4f4f"/><rect x="91.7" y="50.5" width="2.3" height="19" fill="#4f4f4f"/><rect x="95.6" y="50.5" width="2.3" height="19" fill="#4f4f4f"/><rect x="99.5" y="50.5" width="2.3" height="19" fill="#4f4f4f"/><rect x="103.5" y="50.5" width="2.3" height="19" fill="#4f4f4f"/><rect x="107.5" y="50.5" width="2.3" height="19" fill="#4f4f4f"/><path d="M122.9 40 L164.1 40 Q166.6 40 166.6 42.5 L166.6 83.5 l-5.5 0 l0 3 l-5 0 l0 3 L130.9 89.5 l0 -3 l-5 0 l0 -3 l-5.5 0 L120.4 42.5 Q120.4 40 122.9 40Z" fill="#fff" stroke="#3a3a3a" stroke-width="1.4" stroke-linejoin="round"/><path d="M125 46.5 L162 46.5 L162 79.5 l-5.5 0 l0 3 l-5 0 l0 3 L135.5 85.5 l0 -3 l-5 0 l0 -3 l-5.5 0Z" fill="#a0a0a0" stroke="none"/><rect x="128.2" y="50.5" width="2.3" height="19" fill="#4f4f4f"/><rect x="132.1" y="50.5" width="2.3" height="19" fill="#4f4f4f"/><rect x="136.1" y="50.5" width="2.3" height="19" fill="#4f4f4f"/><rect x="140" y="50.5" width="2.3" height="19" fill="#4f4f4f"/><rect x="144" y="50.5" width="2.3" height="19" fill="#4f4f4f"/><rect x="147.9" y="50.5" width="2.3" height="19" fill="#4f4f4f"/><rect x="151.9" y="50.5" width="2.3" height="19" fill="#4f4f4f"/><rect x="155.8" y="50.5" width="2.3" height="19" fill="#4f4f4f"/><text class="lb" x="72" y="23.5" font-size="9.6" textLength="35.7" lengthAdjust="spacingAndGlyphs">PHONE 1</text><text class="lb" x="125" y="23" font-size="9.6" textLength="35.7" lengthAdjust="spacingAndGlyphs">PHONE 2</text><text class="lb" x="178" y="23" font-size="10.3" textLength="21.4" lengthAdjust="spacingAndGlyphs">USB</text><rect x="175" y="30.5" width="30" height="12.5" rx="2.8" fill="#9a9a9a" stroke="#6a6a6a" stroke-width="1.2"/><text class="lb" x="214" y="22.5" font-size="10.3" textLength="17.3" lengthAdjust="spacingAndGlyphs">SIM</text><rect x="213.5" y="30" width="27.5" height="9.5" rx="1" fill="#fff" stroke="#5a5a5a" stroke-width="2.3"/><text class="lb" x="240" y="23.5" font-size="10.3" textLength="33.2" lengthAdjust="spacingAndGlyphs">RESET</text><circle cx="262.7" cy="55" r="7.4" fill="#9a9a9a" stroke="#777" stroke-width="1"/><text class="lb" x="301.5" y="25.3" font-size="11.2" font-style="italic" textLength="35" lengthAdjust="spacingAndGlyphs">On/Off</text></g><path d="M521.5 157.2 L568 131.3 C573.5 128.5 577.5 130 577.5 136 L577.5 155 C577.5 161 575 165 570 168 L525 197.5 C519 201 515.4 199 515.4 193 L515.4 167 C515.4 162.5 517.5 159.5 521.5 157.2Z" fill="#fff" stroke="#555" stroke-width="1.3"/><path d="M523.5 160.8 L567.5 136 C571.5 134 574.3 135 574.3 139.5 L574.3 154 C574.3 159 572.5 162 568.5 164.5 L526 192.5 C521.5 195 518.8 194 518.8 189.5 L518.8 168.5 C518.8 165 520.5 162.5 523.5 160.8Z" fill="#fff" stroke="#555" stroke-width="1.1"/><path d="M529.5 161 L566 140 C569.5 138.3 571.3 139.3 571.3 142.5 L571.3 158.5 C571.3 161.5 570 163.5 567.5 165 L531 188.5 C528 190.2 526.4 189.2 526.4 186 L526.4 166.5 C526.4 164 527.5 162.2 529.5 161Z" fill="#fff" stroke="#333" stroke-width="1.5"/><path d="M539.9 155.6 L566 140.6 C569 139.3 570.6 140.3 570.6 143 L570.6 158.3 C570.6 161 569.5 163 567.3 164.4 L539.9 182.2Z" fill="#8b8b8b"/><path d="M542.5 155.1 L542.5 179.5" stroke="#555" stroke-width="1.1"/><path d="M546.2 153 L546.2 177.1" stroke="#555" stroke-width="1.1"/><path d="M549.9 150.8 L549.9 174.7" stroke="#555" stroke-width="1.1"/><path d="M553.6 148.7 L553.6 172.3" stroke="#555" stroke-width="1.1"/><path d="M557.3 146.6 L557.3 169.9" stroke="#555" stroke-width="1.1"/><path d="M561 144.5 L561 167.5" stroke="#555" stroke-width="1.1"/><path d="M564.7 142.3 L564.7 165.1" stroke="#555" stroke-width="1.1"/><path d="M568.4 140.2 L568.4 162.7" stroke="#555" stroke-width="1.1"/><path d="M292.2,325.5 341.7,354.3 357.3,327.3 307.8,298.5Z" fill="#fff" stroke="none"/><g transform="matrix(0.866 -0.49 0 1 300 312)"><circle r="12.8" fill="#fff" stroke="#232323" stroke-width="2.7" vector-effect="non-scaling-stroke"/></g><path d="M292.2,325.5 341.7,354.3 357.3,327.3 307.8,298.5Z" fill="#fff" stroke="none"/><path d="M292.2,325.5 341.7,354.3 M357.3,327.3 307.8,298.5" fill="none" stroke="#232323" stroke-width="2.7"/><g transform="matrix(0.866 -0.49 0 1 349.5 340.8)"><circle r="12.8" fill="#fff" stroke="#232323" stroke-width="2.7" vector-effect="non-scaling-stroke"/></g><path d="M344,355.7 346.5,357.1 361.5,330.9 359,329.5Z" fill="#fff" stroke="none"/><g transform="matrix(0.866 -0.49 0 1 351.5 342.6)"><circle r="12.4" fill="#fff" stroke="#232323" stroke-width="2.2" vector-effect="non-scaling-stroke"/></g><path d="M344,355.7 346.5,357.1 361.5,330.9 359,329.5Z" fill="#fff" stroke="none"/><path d="M344,355.7 346.5,357.1 M361.5,330.9 359,329.5" fill="none" stroke="#232323" stroke-width="2.2"/><g transform="matrix(0.866 -0.49 0 1 354 344)"><circle r="12.4" fill="#fff" stroke="#232323" stroke-width="2.2" vector-effect="non-scaling-stroke"/></g><path d="M347.3,355.6 378.8,374.2 392.2,351 360.7,332.4Z" fill="#fff" stroke="none"/><g transform="matrix(0.866 -0.49 0 1 354 344)"><circle r="11" fill="#fff" stroke="#232323" stroke-width="2.7" vector-effect="non-scaling-stroke"/></g><path d="M347.3,355.6 378.8,374.2 392.2,351 360.7,332.4Z" fill="#fff" stroke="none"/><path d="M347.3,355.6 378.8,374.2 M392.2,351 360.7,332.4" fill="none" stroke="#232323" stroke-width="2.7"/><g transform="matrix(0.866 -0.49 0 1 385.5 362.6)"><circle r="11" fill="#fff" stroke="#232323" stroke-width="2.7" vector-effect="non-scaling-stroke"/></g><circle cx="386.5" cy="363.5" r="2" fill="#232323"/><path d="M386.5 363.5 C402 369 418 386 432 414" fill="none" stroke="#232323" stroke-width="2.8"/><path d="M358.8 288.3 L396.8 291.6 L390.8 297.6 L431 320.7 L417 328.8 L377.5 305.8 L370.2 308Z" fill="#E36F52"/><path d="M416.2 337.9 L448.7 319.3 L471.9 333.2 L481.9 351.8 L496.6 363.4 L477.3 374.6 L461.8 384.2 C452 383 444 380.5 438.6 377.6 C430 373.5 422 369.5 415.5 365.7Z" fill="#fff" stroke="#232323" stroke-width="3"/><path d="M416.2 337.9 L441 351 L471.9 333.2 M441 351 L464.1 361 L481.9 351.8 M464.1 361 L477.3 374.6" fill="none" stroke="#232323" stroke-width="2.8"/><path d="M466.3 363.3 L484.4 353.7" stroke="#777" stroke-width="0.7"/><path d="M468.5 365.5 L486.8 355.7" stroke="#777" stroke-width="0.7"/><path d="M470.7 367.8 L489.3 357.6" stroke="#777" stroke-width="0.7"/><path d="M472.9 370.1 L491.7 359.5" stroke="#777" stroke-width="0.7"/><path d="M475.1 372.3 L494.2 361.5" stroke="#777" stroke-width="0.7"/><path d="M470 380 C460 392 440 405 425 425" fill="none" stroke="#232323" stroke-width="2.6"/></g>
<path d="M260.9,263.8 262.2,263 263.7,262.1 265.3,261.2 267.1,260.2 268.9,259.2 270.7,258.2 272.6,257.1 274.6,256 276.5,254.9 278.4,253.9 280.1,252.9 281.6,252 283.1,251.3 284.5,250.5 286,249.6 287.6,248.7 289.6,247.6 292,246.3 294.9,244.6 298.3,242.6 302.5,240.2 307.4,237.4 312.8,234.2 318.6,230.9 324.7,227.3 331,223.7 337.2,220.1 343.2,216.6 348.9,213.3 354.2,210.2 359.1,207.4 363.8,204.8 368.3,202.2 372.6,199.8 376.9,197.4 381.1,195 385.3,192.6 389.5,190.2 393.8,187.8 398.2,185.2 402.6,182.7 407.1,180.1 411.6,177.5 416.1,174.9 420.6,172.2 425.1,169.6 429.7,166.9 434.2,164.3 438.7,161.6 443.2,159 447.7,156.4 452.2,153.8 456.6,151.2 461,148.6 465.5,146 469.9,143.4 474.4,140.8 479,138.1 483.6,135.4 488.3,132.7 493.2,129.8 498.3,126.8 503.5,123.8 508.7,120.7 514,117.5 519.3,114.5 524.4,111.4 529.4,108.6 534.1,105.8 538.6,103.3 542.7,100.9 546.7,98.6 550.5,96.5 554.1,94.5 557.7,92.6 561,90.7 564.3,89 567.5,87.2 570.5,85.5 573.5,83.9 576.5,82.2 579.2,80.6 581.9,79 584.6,77.5 587.1,76 589.5,74.5 591.9,73.2 594.2,71.9 596.5,70.7 598.7,69.6 600.8,68.7 602.7,67.8 604.6,67.1 606.4,66.4 608.2,65.7 609.9,65.2 611.7,64.8 613.4,64.5 615.1,64.2 616.9,64.1 618.6,64.1 620.4,64.2 622.1,64.5 623.8,64.8 625.4,65.2 627,65.8 628.5,66.4 630,67.1 631.5,67.9 633,68.8 634.4,69.8 635.8,70.9 637.1,72.1 638.3,73.4 639.5,74.7 640.7,76 641.8,77.4 642.9,78.9 644,80.3 645,81.8 646.1,83.3 647.2,84.9 648.3,86.5 649.4,88.2 650.4,89.9 651.5,91.6 652.5,93.4 653.4,95.2 654.4,96.9 655.2,98.7 656,100.4 656.8,102.1 657.5,103.9 658.2,105.6 658.9,107.4 659.5,109.1 660.1,110.9 660.7,112.7 661.2,114.4 661.7,116.3 662.2,118.1 662.7,119.9 663.1,121.8 663.5,123.7 663.9,125.6 664.2,127.5 664.5,129.4 664.8,131.3 665.1,133.2 665.3,135.2 665.5,137.1 665.7,139 665.9,140.8 666,142.7 666.1,144.6 666.2,146.6 666.2,148.6 666.2,150.8 666.2,153 666.2,155.4 666.1,158 666.1,160.7 666,163.6 665.9,166.5 665.7,169.6 665.6,172.7 665.3,175.8 665.1,179 664.8,182.2 664.4,185.3 664,188.4 663.5,191.7 663,194.9 662.4,198.2 661.8,201.5 661.2,204.8 660.5,208.1 659.8,211.3 659.1,214.5 658.3,217.6 657.5,220.6 656.7,223.6 655.8,226.6 654.9,229.5 654,232.4 653,235.3 652,238.1 650.9,240.9 649.8,243.7 648.7,246.4 647.6,249.2 646.4,251.9 645.1,254.6 643.8,257.2 642.5,259.9 641.2,262.5 639.9,265 638.5,267.5 637.1,270 635.7,272.4 634.2,274.8 632.8,277.1 631.3,279.4 629.8,281.7 628.3,283.9 626.7,286.1 625.2,288.2 623.6,290.3 622,292.3 620.4,294.2 618.8,296 617.3,297.7 615.8,299.4 614.3,301 612.7,302.5 611.1,304.1 609.3,305.6 607.4,307.2 605.3,308.9 602.9,310.6 600.3,312.3 597.5,314.1 594.6,315.9 591.4,317.7 588.2,319.6 584.9,321.4 581.5,323.3 578.1,325.1 574.7,327 571.4,328.9 568.1,330.8 565,332.6 562,334.3 558.9,336 555.7,337.7 552.4,339.6 548.8,341.6 544.8,343.9 540.4,346.4 535.5,349.2 529.9,352.4 523.8,355.9 517.1,359.8 510.1,363.8 502.9,368 495.5,372.3 488,376.6 480.7,380.9 473.5,385 466.6,389 460,392.8 453.4,396.6 447,400.4 440.6,404.1 434.2,407.8 427.8,411.5 421.3,415.3 414.8,419 408.3,422.9 401.6,426.7 394.6,430.7 387.4,434.9 380,439.1 372.5,443.4 365,447.7 357.6,452 350.5,456 343.7,459.9 337.3,463.6 331.5,466.9 326.2,470 321.2,472.8 316.5,475.5 312.1,478 308,480.4 304.2,482.6 300.7,484.6 297.4,486.5 294.3,488.3 291.4,489.9 288.9,491.4 286.8,492.6 285,493.6 283.4,494.5 282.1,495.3 280.9,495.9 279.8,496.6 278.7,497.2 277.6,497.8 276.4,498.5 275.2,499.2 274,499.8 272.9,500.5 271.8,501.1 270.7,501.7 269.7,502.2 268.7,502.8 267.7,503.3 266.7,503.8 265.8,504.3 264.8,504.8 263.9,505.2 263.1,505.7 262.2,506.1 261.3,506.5 260.4,506.9 259.6,507.3 258.7,507.7 257.7,508 256.8,508.3 255.9,508.5 255,508.8 254.1,509 253.2,509.2 252.2,509.3 251.3,509.4 250.3,509.5 249.4,509.6 248.4,509.6 247.4,509.6 246.5,509.6 245.5,509.5 244.5,509.4 243.4,509.3 242.4,509.2 241.3,509 240.2,508.7 239.1,508.4 238,508.1 236.9,507.6 235.8,507.1 234.7,506.6 233.6,506.1 232.5,505.4 231.4,504.8 230.3,504 229.2,503.3 228.2,502.5 227.1,501.6 226,500.7 225,499.7 223.9,498.7 222.9,497.7 221.8,496.5 220.8,495.4 219.8,494.2 218.8,493 217.8,491.7 216.9,490.5 216,489.2 215.2,487.9 214.3,486.6 213.6,485.2 212.8,483.9 212.1,482.5 211.3,481.1 210.7,479.7 210,478.2 209.3,476.7 208.7,475.2 208,473.6 207.4,471.9 206.8,470.2 206.2,468.4 205.6,466.7 205,464.9 204.4,463.1 203.9,461.3 203.4,459.5 203,457.7 202.6,456 202.2,454.2 201.9,452.5 201.5,450.8 201.3,449 201,447.3 200.8,445.6 200.5,443.8 200.3,442.1 200.2,440.3 200,438.5 199.9,436.8 199.7,435 199.6,433.2 199.5,431.4 199.5,429.6 199.4,427.8 199.4,425.9 199.4,423.9 199.5,421.9 199.5,419.9 199.6,417.8 199.7,415.7 199.8,413.6 199.9,411.4 200,409.2 200.2,406.9 200.4,404.6 200.7,402.2 200.9,399.7 201.2,397.1 201.5,394.4 201.9,391.6 202.3,388.7 202.7,385.8 203.1,382.8 203.5,379.9 204,377 204.5,374.2 205.1,371.4 205.6,368.8 206.2,366.2 206.8,363.6 207.4,361.1 208,358.7 208.7,356.2 209.4,353.7 210.1,351.2 210.8,348.7 211.6,346.1 212.5,343.5 213.3,340.8 214.2,338.1 215.1,335.3 216,332.5 217,329.7 218,327 219.1,324.2 220.1,321.5 221.2,318.8 222.4,316.2 223.6,313.5 224.8,310.8 226.1,308.1 227.4,305.5 228.8,302.9 230.1,300.4 231.4,298 232.7,295.7 233.9,293.5 235.2,291.4 236.4,289.4 237.7,287.5 238.9,285.7 240.2,284 241.4,282.4 242.5,280.9 243.6,279.4 244.6,278.1 245.6,276.9 246.5,275.8 247.3,274.8 248.1,273.9 248.9,273 249.6,272.3 250.2,271.6 250.9,271 251.6,270.4 252.3,269.8 253,269.2 253.7,268.6 254.4,268 255,267.5 255.7,267 256.3,266.6 257.1,266.1 257.8,265.6 258.7,265.1 259.7,264.5Z M264.1,269.4 265.5,268.6 266.9,267.8 268.5,266.9 270.3,266 272.1,265 273.9,263.9 275.9,262.9 277.8,261.8 279.7,260.8 281.6,259.7 283.4,258.8 284.9,257.9 286.3,257.2 287.7,256.4 289.2,255.6 290.9,254.6 292.9,253.5 295.3,252.2 298.2,250.5 301.7,248.6 305.9,246.2 310.8,243.4 316.3,240.3 322.1,236.9 328.3,233.4 334.5,229.8 340.7,226.3 346.8,222.8 352.5,219.6 357.8,216.6 362.7,213.8 367.4,211.1 371.8,208.6 376.2,206.1 380.5,203.7 384.7,201.3 388.9,199 393.1,196.5 397.4,194.1 401.8,191.6 406.3,189 410.8,186.3 415.2,183.7 419.7,181 424.3,178.4 428.8,175.7 433.3,173 437.8,170.3 442.3,167.7 446.8,165 451.2,162.4 455.7,159.7 460.1,157.1 464.5,154.5 468.9,151.9 473.4,149.2 477.8,146.6 482.4,143.9 487,141.1 491.7,138.3 496.5,135.4 501.6,132.4 506.7,129.2 512,126 517.2,122.9 522.4,119.7 527.5,116.6 532.4,113.7 537.1,110.9 541.4,108.3 545.6,106 549.5,103.7 553.3,101.6 557,99.7 560.5,97.8 563.8,95.9 567.1,94.2 570.3,92.5 573.4,90.8 576.5,89.1 579.4,87.5 582.3,85.8 585,84.3 587.7,82.7 590.2,81.3 592.6,79.9 594.9,78.6 597.1,77.4 599.3,76.3 601.3,75.4 603.3,74.5 605.2,73.7 606.9,73 608.6,72.4 610.1,71.9 611.6,71.5 613,71.2 614.4,70.9 615.8,70.8 617.1,70.7 618.5,70.7 619.8,70.7 621.1,70.9 622.4,71.1 623.6,71.4 624.9,71.8 626.1,72.2 627.3,72.8 628.5,73.4 629.6,74 630.7,74.7 631.8,75.6 632.9,76.5 634,77.5 635,78.7 636.1,79.9 637.2,81.2 638.2,82.5 639.3,83.8 640.4,85.2 641.4,86.6 642.5,88.1 643.5,89.7 644.6,91.2 645.6,92.9 646.6,94.5 647.5,96.2 648.5,97.8 649.4,99.5 650.2,101.1 651,102.8 651.7,104.4 652.4,106 653.1,107.6 653.7,109.3 654.3,110.9 654.9,112.6 655.4,114.3 655.9,116 656.5,117.7 656.9,119.5 657.4,121.2 657.8,123 658.2,124.8 658.6,126.6 658.9,128.4 659.3,130.2 659.5,132.1 659.8,133.9 660.1,135.8 660.3,137.7 660.5,139.5 660.7,141.3 660.8,143.1 661,144.9 661.1,146.8 661.1,148.7 661.2,150.8 661.2,153 661.2,155.4 661.2,157.9 661.1,160.6 661.1,163.4 661,166.3 660.8,169.3 660.7,172.4 660.5,175.5 660.2,178.6 660,181.6 659.6,184.7 659.2,187.8 658.8,190.9 658.3,194.1 657.7,197.4 657.1,200.6 656.5,203.9 655.8,207.1 655.2,210.3 654.4,213.4 653.7,216.4 652.9,219.4 652.1,222.3 651.2,225.2 650.3,228.1 649.4,230.9 648.4,233.7 647.5,236.4 646.4,239.2 645.4,241.9 644.3,244.6 643.2,247.3 642,249.9 640.8,252.5 639.5,255.1 638.3,257.7 637,260.3 635.6,262.8 634.3,265.2 632.9,267.6 631.5,270 630.1,272.3 628.7,274.6 627.3,276.8 625.8,279 624.3,281.1 622.8,283.2 621.3,285.2 619.8,287.2 618.2,289.1 616.6,291 615.1,292.8 613.6,294.5 612.2,296 610.8,297.5 609.3,299 607.8,300.4 606.1,301.9 604.3,303.3 602.3,304.8 600.1,306.4 597.6,308.1 594.9,309.7 592,311.4 588.9,313.2 585.7,314.9 582.3,316.7 578.9,318.5 575.5,320.3 572.1,322.2 568.6,324.1 565.4,325.9 562.2,327.6 559.2,329.3 556.1,330.9 552.9,332.7 549.6,334.5 545.9,336.5 541.9,338.7 537.5,341.2 532.5,344 526.9,347.2 520.7,350.7 514.1,354.4 507,358.4 499.8,362.6 492.3,366.8 484.9,371.1 477.5,375.3 470.3,379.4 463.4,383.4 456.7,387.2 450.2,391 443.7,394.8 437.3,398.6 431,402.3 424.6,406 418.1,409.8 411.7,413.6 405.1,417.4 398.4,421.3 391.5,425.3 384.3,429.5 376.9,433.8 369.4,438.1 361.9,442.4 354.6,446.6 347.4,450.8 340.6,454.7 334.3,458.3 328.5,461.7 323.2,464.8 318.2,467.7 313.5,470.4 309.2,472.9 305.1,475.3 301.3,477.5 297.8,479.5 294.5,481.5 291.4,483.2 288.6,484.9 286,486.4 283.9,487.6 282.1,488.6 280.5,489.5 279.2,490.3 278.1,491 277,491.6 275.9,492.2 274.8,492.8 273.6,493.5 272.4,494.2 271.2,494.9 270.1,495.5 269,496.2 268,496.7 267,497.3 266,497.8 265.1,498.3 264.2,498.8 263.2,499.3 262.3,499.8 261.4,500.2 260.5,500.7 259.7,501.1 258.9,501.5 258.2,501.8 257.4,502.1 256.7,502.4 255.9,502.7 255.2,502.9 254.4,503.1 253.7,503.3 252.9,503.5 252.1,503.7 251.4,503.8 250.7,503.9 249.9,504 249.1,504 248.4,504 247.6,504 246.7,504 245.9,503.9 245,503.8 244.2,503.7 243.3,503.6 242.5,503.4 241.6,503.2 240.8,503 239.9,502.7 239.1,502.4 238.2,502 237.3,501.5 236.4,501 235.5,500.5 234.6,499.9 233.6,499.3 232.7,498.6 231.8,497.9 230.9,497.1 230,496.3 229.1,495.5 228.1,494.5 227.2,493.6 226.2,492.5 225.3,491.5 224.4,490.4 223.5,489.3 222.6,488.1 221.8,487 221,485.8 220.2,484.7 219.5,483.5 218.8,482.2 218.1,481 217.4,479.7 216.8,478.4 216.2,477.1 215.5,475.7 214.9,474.3 214.3,472.8 213.7,471.3 213.1,469.8 212.5,468.1 212,466.5 211.4,464.8 210.9,463.1 210.4,461.3 209.9,459.6 209.4,457.9 209,456.3 208.6,454.6 208.3,453 208,451.4 207.7,449.7 207.4,448.1 207.2,446.4 207,444.8 206.8,443.1 206.6,441.4 206.4,439.7 206.3,438 206.1,436.3 206,434.6 205.9,432.9 205.8,431.2 205.8,429.4 205.7,427.7 205.7,425.9 205.7,424 205.7,422.1 205.8,420.1 205.8,418.1 205.9,416 206,413.9 206.1,411.8 206.3,409.6 206.4,407.4 206.6,405.1 206.8,402.8 207.1,400.3 207.4,397.8 207.7,395.1 208,392.3 208.3,389.5 208.7,386.6 209.1,383.7 209.5,380.8 210,378 210.4,375.2 210.9,372.6 211.5,370 212,367.5 212.6,365 213.2,362.6 213.8,360.2 214.5,357.8 215.1,355.4 215.8,352.9 216.6,350.4 217.4,347.9 218.2,345.3 219,342.6 219.9,339.9 220.8,337.2 221.7,334.5 222.7,331.8 223.6,329.1 224.7,326.4 225.7,323.8 226.8,321.2 227.9,318.6 229.1,316 230.3,313.4 231.5,310.7 232.8,308.2 234.1,305.6 235.4,303.2 236.6,300.8 237.9,298.6 239.1,296.5 240.3,294.6 241.5,292.7 242.7,290.9 243.9,289.2 245,287.6 246.2,286 247.3,284.6 248.4,283.2 249.4,281.9 250.4,280.7 251.2,279.6 252,278.7 252.7,278 253.3,277.3 253.9,276.7 254.5,276.2 255.1,275.6 255.7,275.1 256.3,274.6 257,274 257.7,273.5 258.3,273 258.8,272.7 259.3,272.3 259.8,271.9 260.5,271.6 261.2,271.1 262,270.6 263,270.1Z" fill="#E36F52" fill-rule="evenodd"/>

<path d="M260.7,253.8 L264.9,252.3 271,248.8 358.1,197.3 402.1,172.1 447,146.1 497.8,114.8 A3 3 0 0 0 494.8 109.6 L443,139.1 397.9,164.9 353.9,190.3 267,242 261.1,246.1 257.9,249 A2.8 2.8 0 0 0 260.7 253.8Z" fill="#E36F52"/>
<path d="M223.3,548.9 L332.1,487.5 467.2,408.3 536.1,368.5 668.3,292.8 L664.3,285.8 L531.9,361.1 462.8,400.9 327.9,480.3 219.7,542.7 A3.6 3.6 0 0 0 223.3 548.9Z" fill="#E36F52"/>
<path d="M362.3,492.7 L466.9,431.8 598.6,353.7 A3.1 3.1 0 0 0 595.4 348.3 L463.1,425.2 358.7,486.5 A3.6 3.6 0 0 0 362.3 492.7Z" fill="#E36F52"/>
<path d="M356.2,489.6 L374.7,712.3 L381.9,711.7 L363,489 A3.4 3.4 0 0 0 356.2 489.6Z" fill="#E36F52"/>
<circle cx="360.6" cy="490.2" r="4.2" fill="#E36F52"/>

<circle cx="482.7" cy="297.7" r="19.6" fill="#000"/><text x="482.7" y="305.9" text-anchor="middle" font-family="Liberation Sans, sans-serif" font-weight="bold" font-size="27" fill="#fff">b</text>
<circle cx="617.8" cy="485" r="19.6" fill="#000"/><text x="617.8" y="493.2" text-anchor="middle" font-family="Liberation Sans, sans-serif" font-weight="bold" font-size="27" fill="#fff">a</text>

</svg>
</body></html>
